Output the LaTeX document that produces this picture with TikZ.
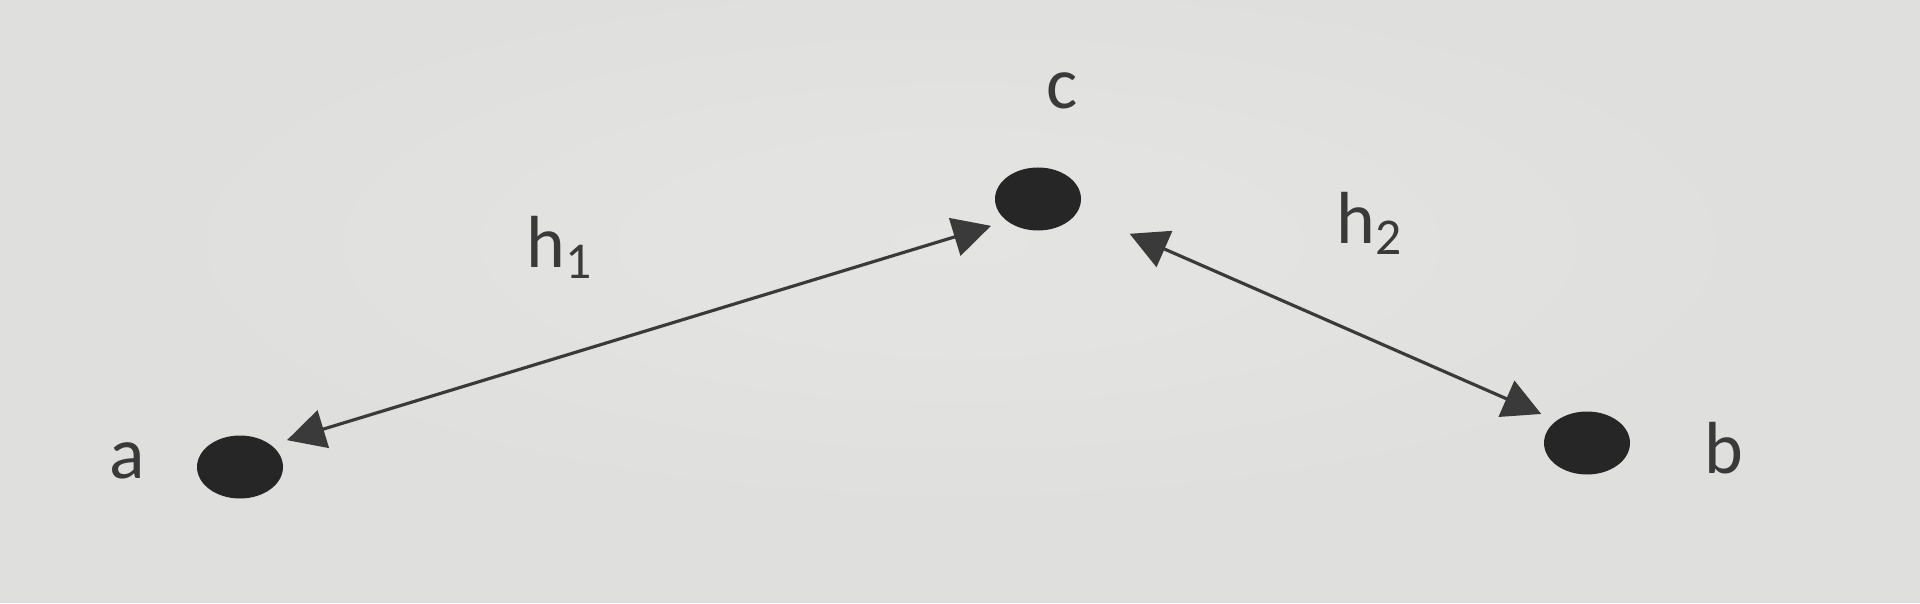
\documentclass[tikz,border=0pt]{standalone}
\usepackage{fontspec}
\setmainfont{Carlito}
\usetikzlibrary{arrows.meta,shapes.geometric,calc}
\definecolor{ScreenGray}{RGB}{223,223,221}
\definecolor{ScreenLight}{RGB}{230,230,228}
\definecolor{DotBlack}{RGB}{38,38,38}
\definecolor{InkGray}{RGB}{58,58,58}
\tikzset{
  point/.style={ellipse, fill=DotBlack, draw=none, minimum width=0.86cm, minimum height=0.63cm, inner sep=0pt},
  pointlabel/.style={text=InkGray, font=\fontsize{21}{25}\selectfont, inner sep=0pt},
  link/.style={draw=InkGray, line width=0.9pt,
    {Triangle[length=0.38cm,width=0.39cm]}-{Triangle[length=0.38cm,width=0.39cm]}},
}

\begin{document}
\begin{tikzpicture}

  % --- background (photo of a screen) ---
  \useasboundingbox (0,0) rectangle (19.2,6.03);
  \fill[ScreenGray] (0,0) rectangle (19.2,6.03);
  \shade[inner color=ScreenLight, outer color=ScreenGray, opacity=0.8]
    (9.6,3.6) ellipse (9.6 and 3.2);

  % --- the three points ---
  \node[point] (a) at (2.40,1.36) {};
  \node[point] (c) at (10.38,4.04) {};
  \node[point] (b) at (15.87,1.60) {};

  \node[pointlabel] (la) at (1.27,1.42) {a};
  \node[pointlabel] (lc) at (10.62,5.12) {c};
  \node[pointlabel] (lb) at (17.24,1.55) {b};

  % --- distances between them ---
  \draw[link, shorten <=0.16cm, shorten >=0.16cm] (a.35) -- (c.215);
  \draw[link, shorten <=0.56cm, shorten >=0.16cm] (c.-17) -- (b.144);

  \node[pointlabel] (h1) at (5.60,3.56) {h\textsubscript{1}};
  \node[pointlabel] (h2) at (13.70,3.80) {h\textsubscript{2}};

\end{tikzpicture}
\end{document}
